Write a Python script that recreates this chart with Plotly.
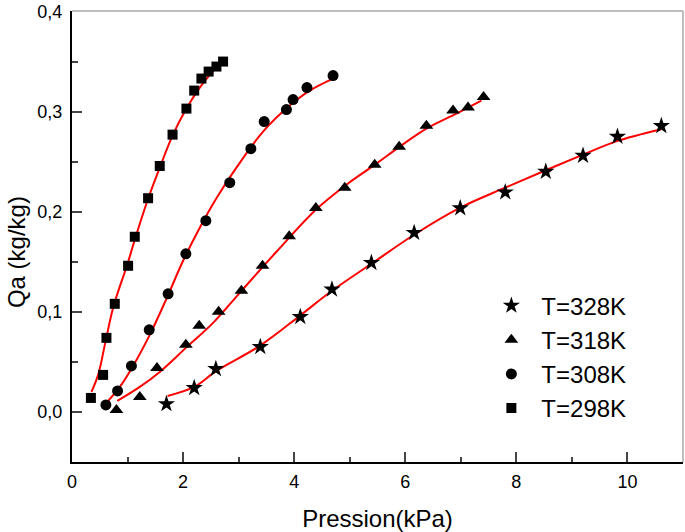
import plotly.graph_objects as go

# ---- data ----
p298 = [0.34, 0.56, 0.62, 0.77, 1.01, 1.13, 1.37, 1.58, 1.81, 2.06, 2.20, 2.33, 2.46, 2.60, 2.72]
q298 = [0.014, 0.037, 0.074, 0.108, 0.146, 0.175, 0.2135, 0.2457, 0.277, 0.303, 0.321, 0.333, 0.340, 0.345, 0.350]

p308 = [0.61, 0.82, 1.07, 1.39, 1.73, 2.05, 2.41, 2.84, 3.22, 3.46, 3.86, 3.98, 4.23, 4.70]
q308 = [0.007, 0.021, 0.046, 0.082, 0.118, 0.158, 0.191, 0.229, 0.263, 0.290, 0.302, 0.312, 0.324, 0.336]

p318 = [0.80, 1.22, 1.53, 2.05, 2.29, 2.64, 3.05, 3.43, 3.91, 4.39, 4.91, 5.45, 5.89, 6.38, 6.86, 7.13, 7.41]
q318 = [0.002, 0.015, 0.044, 0.067, 0.086, 0.100, 0.121, 0.146, 0.1755, 0.2036, 0.224, 0.247, 0.265, 0.286, 0.301, 0.304, 0.3145]

p328 = [1.70, 2.20, 2.59, 3.39, 4.11, 4.68, 5.39, 6.16, 6.99, 7.80, 8.53, 9.20, 9.82, 10.61]
q328 = [0.008, 0.024, 0.043, 0.065, 0.095, 0.1225, 0.149, 0.179, 0.2036, 0.2195, 0.240, 0.256, 0.275, 0.2857]

# fitted curves
fp298 = [0.35, 0.47, 0.61, 0.75, 1.00, 1.13, 1.37, 1.58, 1.81, 2.06, 2.30, 2.50, 2.72]
fq298 = [0.020, 0.037, 0.072, 0.106, 0.148, 0.172, 0.213, 0.244, 0.276, 0.303, 0.324, 0.338, 0.351]

fp308 = [0.635, 0.86, 1.10, 1.40, 1.70, 2.00, 2.30, 2.60, 2.96, 3.44, 3.92, 4.28, 4.70]
fq308 = [0.010, 0.025, 0.046, 0.077, 0.113, 0.151, 0.184, 0.2135, 0.244, 0.280, 0.306, 0.321, 0.333]

fp318 = [0.815, 1.22, 1.58, 2.06, 2.54, 3.02, 3.68, 4.39, 4.94, 5.48, 5.90, 6.38, 6.92, 7.37]
fq318 = [0.011, 0.025, 0.040, 0.0645, 0.089, 0.119, 0.160, 0.202, 0.227, 0.248, 0.265, 0.283, 0.298, 0.311]

fp328 = [1.72, 2.20, 2.60, 3.38, 4.10, 4.68, 5.39, 6.16, 6.99, 7.80, 8.54, 9.20, 9.81, 10.61]
fq328 = [0.016, 0.025, 0.041, 0.066, 0.096, 0.121, 0.148, 0.177, 0.204, 0.224, 0.2417, 0.257, 0.2705, 0.2824]

labels = ["T=328K", "T=318K", "T=308K", "T=298K"]

FONT = "Arial, Liberation Sans, sans-serif"

fig = go.Figure()

fits = [(fp328, fq328), (fp318, fq318), (fp308, fq308), (fp298, fq298)]
for fx, fy in fits:
    fig.add_trace(go.Scatter(x=fx, y=fy, mode="lines", line=dict(color="#ff0000", width=2, shape="spline", smoothing=1.0),
                             showlegend=False, hoverinfo="skip"))

series = [
    (p328, q328, "star", 13),
    (p318, q318, "triangle-up", 12),
    (p308, q308, "circle", 11),
    (p298, q298, "square", 10),
]
for (px, qy, sym, sz), lab in zip(series, labels):
    fig.add_trace(go.Scatter(x=px, y=qy, mode="markers", name=lab,
                             marker=dict(symbol=sym, size=sz, color="black", line=dict(width=0))))

fig.update_layout(
    width=685, height=532,
    margin=dict(l=72, r=2, t=8, b=70),
    paper_bgcolor="white", plot_bgcolor="white",
    font=dict(family=FONT, color="black"),
    separators=", ",
    showlegend=True,
    legend=dict(x=0.67, y=0.396, xanchor="left", yanchor="top", bgcolor="rgba(0,0,0,0)",
                font=dict(size=24, family=FONT), itemwidth=50, tracegroupgap=0),
    xaxis=dict(range=[0, 11], tickmode="linear", tick0=0, dtick=2, ticks="inside", ticklen=10, tickwidth=1.5,
               showline=True, linecolor="black", linewidth=2, showgrid=False, zeroline=False,
               tickfont=dict(size=18), minor=dict(ticks="inside", ticklen=5, dtick=1, tickwidth=1.5),
               ticklabelstandoff=2,
               title=dict(text="Pression(kPa)", font=dict(size=24), standoff=20)),
    yaxis=dict(range=[-0.05, 0.4005], tickmode="linear", tick0=0, dtick=0.1, tickformat=".1f",
               ticks="inside", ticklen=10, tickwidth=1.5, ticklabeloverflow="allow", ticklabelstandoff=4,
               showline=True, linecolor="black", linewidth=2, showgrid=False, zeroline=False,
               tickfont=dict(size=18), minor=dict(ticks="inside", ticklen=6, dtick=0.05, tickwidth=1.5),
               title=dict(text="")),
    annotations=[dict(text="Qa (kg/kg)", xref="paper", yref="paper", x=-0.092, y=0.465,
                      xanchor="center", yanchor="middle", textangle=-90, showarrow=False,
                      font=dict(size=24, family=FONT))],
    shapes=[
        dict(type="line", xref="paper", yref="paper", x0=0, x1=1, y0=1, y1=1, line=dict(color="#a8a8a8", width=1.5)),
        dict(type="line", xref="paper", yref="paper", x0=1, x1=1, y0=0, y1=1, line=dict(color="#a8a8a8", width=1.5)),
    ],
)

fig.write_html("out.html", config={"displayModeBar": False},
               post_script="document.body.style.margin='0px';")
